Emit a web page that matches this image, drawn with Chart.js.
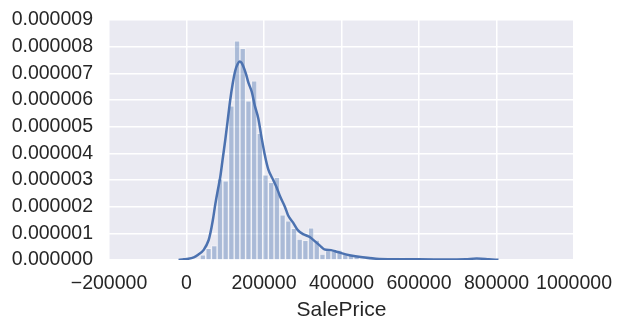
<!DOCTYPE html>
<html>
<head>
<meta charset="utf-8">
<script src="https://cdn.jsdelivr.net/npm/chart.js@4/dist/chart.umd.min.js"></script>
<style>
  body { margin: 0; background: #ffffff; }
  #wrap { width: 624px; height: 330px; }
</style>
</head>
<body>
<div id="wrap"><canvas id="distChart" width="624" height="330"></canvas></div>
<script>
// histogram bins (SalePrice), density values in units of 1e-6
const binStart = 34900;
const binWidth = 14696;
const histDensity = [
  0.19, 0.44, 0.54, 3.04, 2.97, 5.78, 8.22, 7.94, 5.97, 6.72,
  4.75, 3.19, 2.91, 3.10, 1.69, 1.47, 1.19, 0.78, 0.74, 1.21,
  0.75, 0.22, 0.35, 0.40, 0.37, 0.21, 0.19, 0.14, 0.05, 0.14,
  0.05, 0.05, 0, 0, 0.05, 0.09, 0, 0.05, 0, 0.05,
  0.05, 0, 0, 0, 0, 0, 0, 0, 0.09,
];

// kde curve (x = SalePrice, y = density * 1e6)
const kdeX = [
  -20500, -10000, 0, 18700, 30000, 44400, 57200, 61500, 68000, 74400,
  80500, 87200, 93000, 100000, 106000, 112800, 119000, 125600, 132000, 137200,
  142000, 146900, 153000, 159700, 168500, 176000, 185400, 193000, 202600, 211000,
  223800, 232600, 241000, 253800, 262000, 275100, 287200, 300800, 312800, 318000,
  334600, 343600, 355600, 373000, 389700, 420500, 454600, 497400, 550000, 600000,
  677000, 720000, 748700, 780000, 805000,
];
const kdeY = [
  0, 0.02, 0.04, 0.10, 0.2, 0.38, 0.75, 1.0, 1.5, 2.1,
  2.6, 3.12, 3.75, 4.5, 5.2, 6.0, 6.6, 7.09, 7.35, 7.44,
  7.4, 7.25, 7.0, 6.65, 6.3, 5.8, 5.3, 4.65, 3.9, 3.4,
  3.0, 2.72, 2.4, 2.0, 1.68, 1.40, 1.12, 0.97, 0.9, 0.86,
  0.66, 0.55, 0.40, 0.37, 0.30, 0.18, 0.10, 0.04, 0.03, 0.03,
  0.015, 0.03, 0.055, 0.03, 0.005,
];

const xTicks = [-200000, 0, 200000, 400000, 600000, 800000, 1000000];
const yTicks = [0, 1, 2, 3, 4, 5, 6, 7, 8, 9];

document.addEventListener("DOMContentLoaded", function () {
  // grey plot panel behind the grid
  const plotBackground = {
    id: "plotBackground",
    beforeDraw(chart) {
      const { ctx, chartArea } = chart;
      ctx.save();
      ctx.fillStyle = "#EAEAF2";
      ctx.fillRect(chartArea.left, chartArea.top, chartArea.width, chartArea.height);
      ctx.restore();
    },
  };

  const histPoints = histDensity.map((d, i) => ({
    x: binStart + binWidth * (i + 0.5),
    y: d,
  }));
  const kdePoints = kdeX.map((x, i) => ({ x: x, y: kdeY[i] }));

  const ctx = document.getElementById("distChart").getContext("2d");
  new Chart(ctx, {
    type: "bar",
    data: {
      datasets: [
        {
          type: "line",
          data: kdePoints,
          borderColor: "#4C72B0",
          borderWidth: 2.5,
          pointRadius: 0,
          cubicInterpolationMode: "monotone",
          fill: false,
          order: 0,
        },
        {
          data: histPoints,
          backgroundColor: "rgba(76,114,176,0.4)",
          borderColor: "rgba(255,255,255,0.4)",
          borderWidth: 1,
          barPercentage: 1,
          categoryPercentage: 1,
          order: 1,
        },
      ],
    },
    options: {
      responsive: false,
      animation: false,
      layout: { padding: { top: 20, right: 48, left: 0, bottom: 0 } },
      plugins: {
        legend: { display: false },
        tooltip: { enabled: false },
      },
      scales: {
        x: {
          type: "linear",
          offset: false,
          min: -200000,
          max: 1000000,
          afterBuildTicks: (scale) => {
            scale.ticks = xTicks.map((v) => ({ value: v }));
          },
          afterFit: (scale) => {
            scale.height = 70;
          },
          grid: { color: "#ffffff", lineWidth: 1.5, drawTicks: false, offset: false },
          border: { display: false },
          ticks: {
            autoSkip: false,
            maxRotation: 0,
            padding: 12,
            color: "#262626",
            font: { family: "'Liberation Sans', Arial, sans-serif", size: 19.5 },
            callback: (v) => (v < 0 ? "\u2212" + Math.abs(v) : String(v)),
          },
          title: {
            display: true,
            text: "SalePrice",
            color: "#262626",
            padding: { top: 0, bottom: 7 },
            font: { family: "'Liberation Sans', Arial, sans-serif", size: 21 },
          },
        },
        y: {
          min: 0,
          max: 9,
          afterBuildTicks: (scale) => {
            scale.ticks = yTicks.map((v) => ({ value: v }));
          },
          afterFit: (scale) => {
            scale.width = 109;
            scale.paddingTop = 0;
            scale.paddingBottom = 0;
          },
          grid: { color: "#ffffff", lineWidth: 1.5, drawTicks: false },
          border: { display: false },
          ticks: {
            padding: 16,
            color: "#262626",
            font: { family: "'Liberation Sans', Arial, sans-serif", size: 19.5 },
            callback: (v) => (v * 1e-6).toFixed(6),
          },
        },
      },
    },
    plugins: [plotBackground],
  });
});
</script>
</body>
</html>
